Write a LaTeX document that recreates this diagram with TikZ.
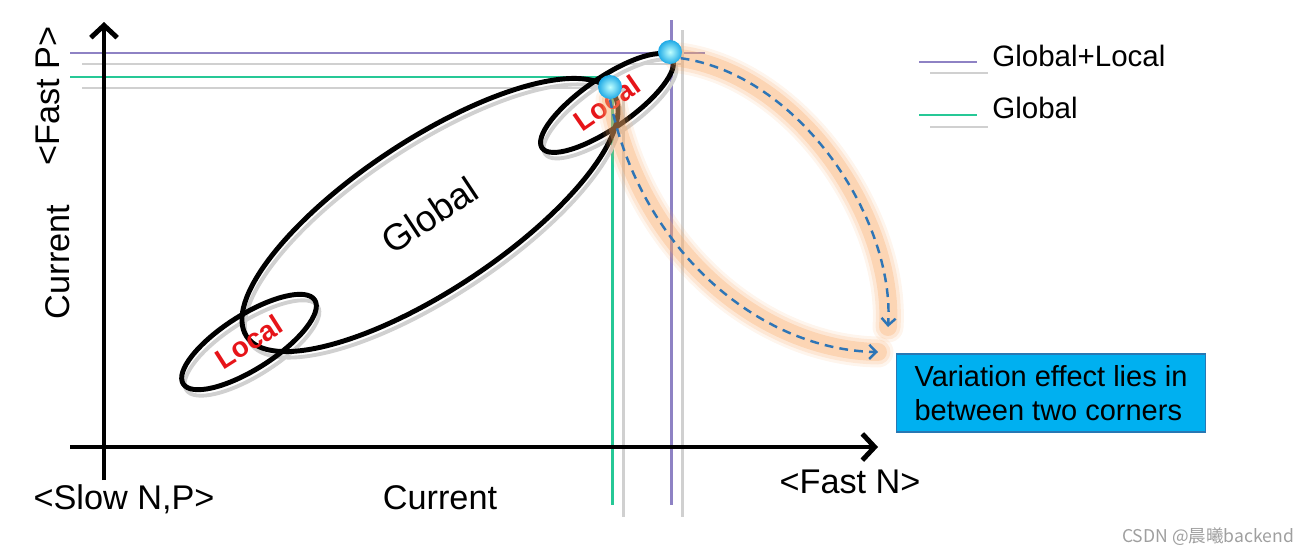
\documentclass[tikz,border=0pt]{standalone}
\usepackage{fontspec}
\setmainfont{Liberation Sans}
\newfontfamily\cjkfont{Noto Sans CJK SC}
\usetikzlibrary{arrows.meta,shapes.geometric}
\definecolor{gluline}{RGB}{142,130,196}
\definecolor{gline}{RGB}{38,200,150}
\definecolor{guide}{RGB}{208,208,208}
\definecolor{localred}{RGB}{230,20,25}
\definecolor{flowblue}{RGB}{46,117,182}
\definecolor{glowc}{RGB}{248,170,105}
\definecolor{ballblue}{RGB}{30,170,230}
\definecolor{notefill}{RGB}{0,176,240}
\definecolor{notedraw}{RGB}{40,120,180}

\begin{document}
\begin{tikzpicture}[
  x=0.02cm, y=-0.02cm,
  axis/.style={line width=2.8pt, -{Straight Barb[length=7pt,width=15pt]}},
  guideline/.style={line width=1.7pt},
  oval/.style={draw, ellipse, line width=2.8pt, inner sep=0pt},
  ovalshadow/.style={draw=guide, ellipse, line width=2.2pt, inner sep=0pt},
  localtext/.style={font=\fontsize{16}{18}\selectfont\bfseries, text=localred},
  ball/.style={circle, inner color=cyan!25, outer color=ballblue, minimum size=0.48cm, inner sep=0pt},
  glow/.style={draw=glowc, line cap=round},
  flow/.style={draw=flowblue, line width=1.4pt, dash pattern=on 5pt off 3.5pt, -{Straight Barb[length=4pt,width=8pt]}},
  axlabel/.style={inner sep=0pt, font=\fontsize{19.5}{22}\selectfont},
  legendtext/.style={inner sep=0pt, anchor=west, font=\fontsize{16.8}{19}\selectfont},
  note/.style={draw=notedraw, fill=notefill, line width=0.6pt, minimum width=6.18cm, minimum height=1.56cm, align=left, font=\fontsize{16.5}{19.5}\selectfont}
]
\useasboundingbox (0,0) rectangle (1310,555);

% corner guide lines
\draw[guideline, gluline] (70,53) -- (705,53);
\draw[guideline, guide] (82,64) -- (682,64);
\draw[guideline, gline] (70,77) -- (614,77);
\draw[guideline, guide] (82,88) -- (623,88);
\draw[guideline, gluline] (671,20) -- (671,505);
\draw[guideline, guide] (682,30) -- (682,517);
\draw[guideline, gline] (612,77) -- (612,505);
\draw[guideline, guide] (623,88) -- (623,517);

% axes
\coordinate (yfoot) at (104,480);
\coordinate (ytip) at (104,22);
\coordinate (xfoot) at (70,447);
\coordinate (xtip) at (878,447);
\draw[axis] (yfoot) -- (ytip);
\draw[axis] (xfoot) -- (xtip);

\node[axlabel, rotate=90] (fastp) at (48,96) {<Fast P>};
\node[axlabel, rotate=90] (ycur) at (58,262) {Current};
\node[axlabel, anchor=base] (slow) at (124,509) {<Slow N,P>};
\node[axlabel, anchor=base] (xcur) at (440,509) {Current};
\node[axlabel, anchor=base] (fastn) at (850,493) {<Fast N>};

% variation ellipses
\node[ovalshadow, minimum width=8.8cm, minimum height=3cm, rotate=33.5] (globalsh) at (433,221) {};
\node[ovalshadow, minimum width=3.16cm, minimum height=1cm, rotate=34.7] (localAsh) at (610,109) {};
\node[ovalshadow, minimum width=3.12cm, minimum height=1.08cm, rotate=32.5] (localBsh) at (252,348) {};
\node[oval, minimum width=8.8cm, minimum height=3cm, rotate=33.5, font=\fontsize{21}{24}\selectfont] (global) at (430,215) {Global};
\node[oval, minimum width=3.16cm, minimum height=1cm, rotate=34.7, localtext] (localA) at (607,103) {Local};
\node[oval, minimum width=3.12cm, minimum height=1.08cm, rotate=32.5, localtext] (localB) at (249,342) {Local};

% glow behind the corner arrows
\coordinate (startA) at (680,58);
\coordinate (startB) at (611,100);
\coordinate (tipA) at (888,327);
\coordinate (tipB) at (878,352);
\draw[glow, line width=0.62cm, opacity=0.12] (startA) .. controls (800,75) and (895,220) .. (tipA);
\draw[glow, line width=0.5cm, opacity=0.18] (startA) .. controls (800,75) and (895,220) .. (tipA);
\draw[glow, line width=0.36cm, opacity=0.3] (startA) .. controls (800,75) and (895,220) .. (tipA);
\draw[glow, line width=0.62cm, opacity=0.12] (startB) .. controls (640,250) and (760,350) .. (tipB);
\draw[glow, line width=0.5cm, opacity=0.18] (startB) .. controls (640,250) and (760,350) .. (tipB);
\draw[glow, line width=0.36cm, opacity=0.3] (startB) .. controls (640,250) and (760,350) .. (tipB);

% corners
\node[ball] (cornerG) at (610,87) {};
\node[ball] (cornerGL) at (670,52) {};
\draw[flow] (cornerGL.-30) .. controls (800,75) and (895,220) .. (tipA);
\draw[flow] (cornerG.south) .. controls (640,250) and (760,350) .. (tipB);

\node[note] (note) at (1051,393) {Variation effect lies in\\between two corners};

% legend
\draw[guideline, gluline] (919,62) -- (977,62);
\draw[guideline, guide] (930,73) -- (988,73);
\draw[guideline, gline] (919,115) -- (977,115);
\draw[guideline, guide] (930,127) -- (988,127);
\node[legendtext] (legGL) at (992,56) {Global+Local};
\node[legendtext] (legG) at (992,108) {Global};

\node[inner sep=0pt, text=gray!75, font=\cjkfont\fontsize{10}{12}\selectfont] (mark) at (1208,537) {CSDN @晨曦backend};
\end{tikzpicture}
\end{document}
